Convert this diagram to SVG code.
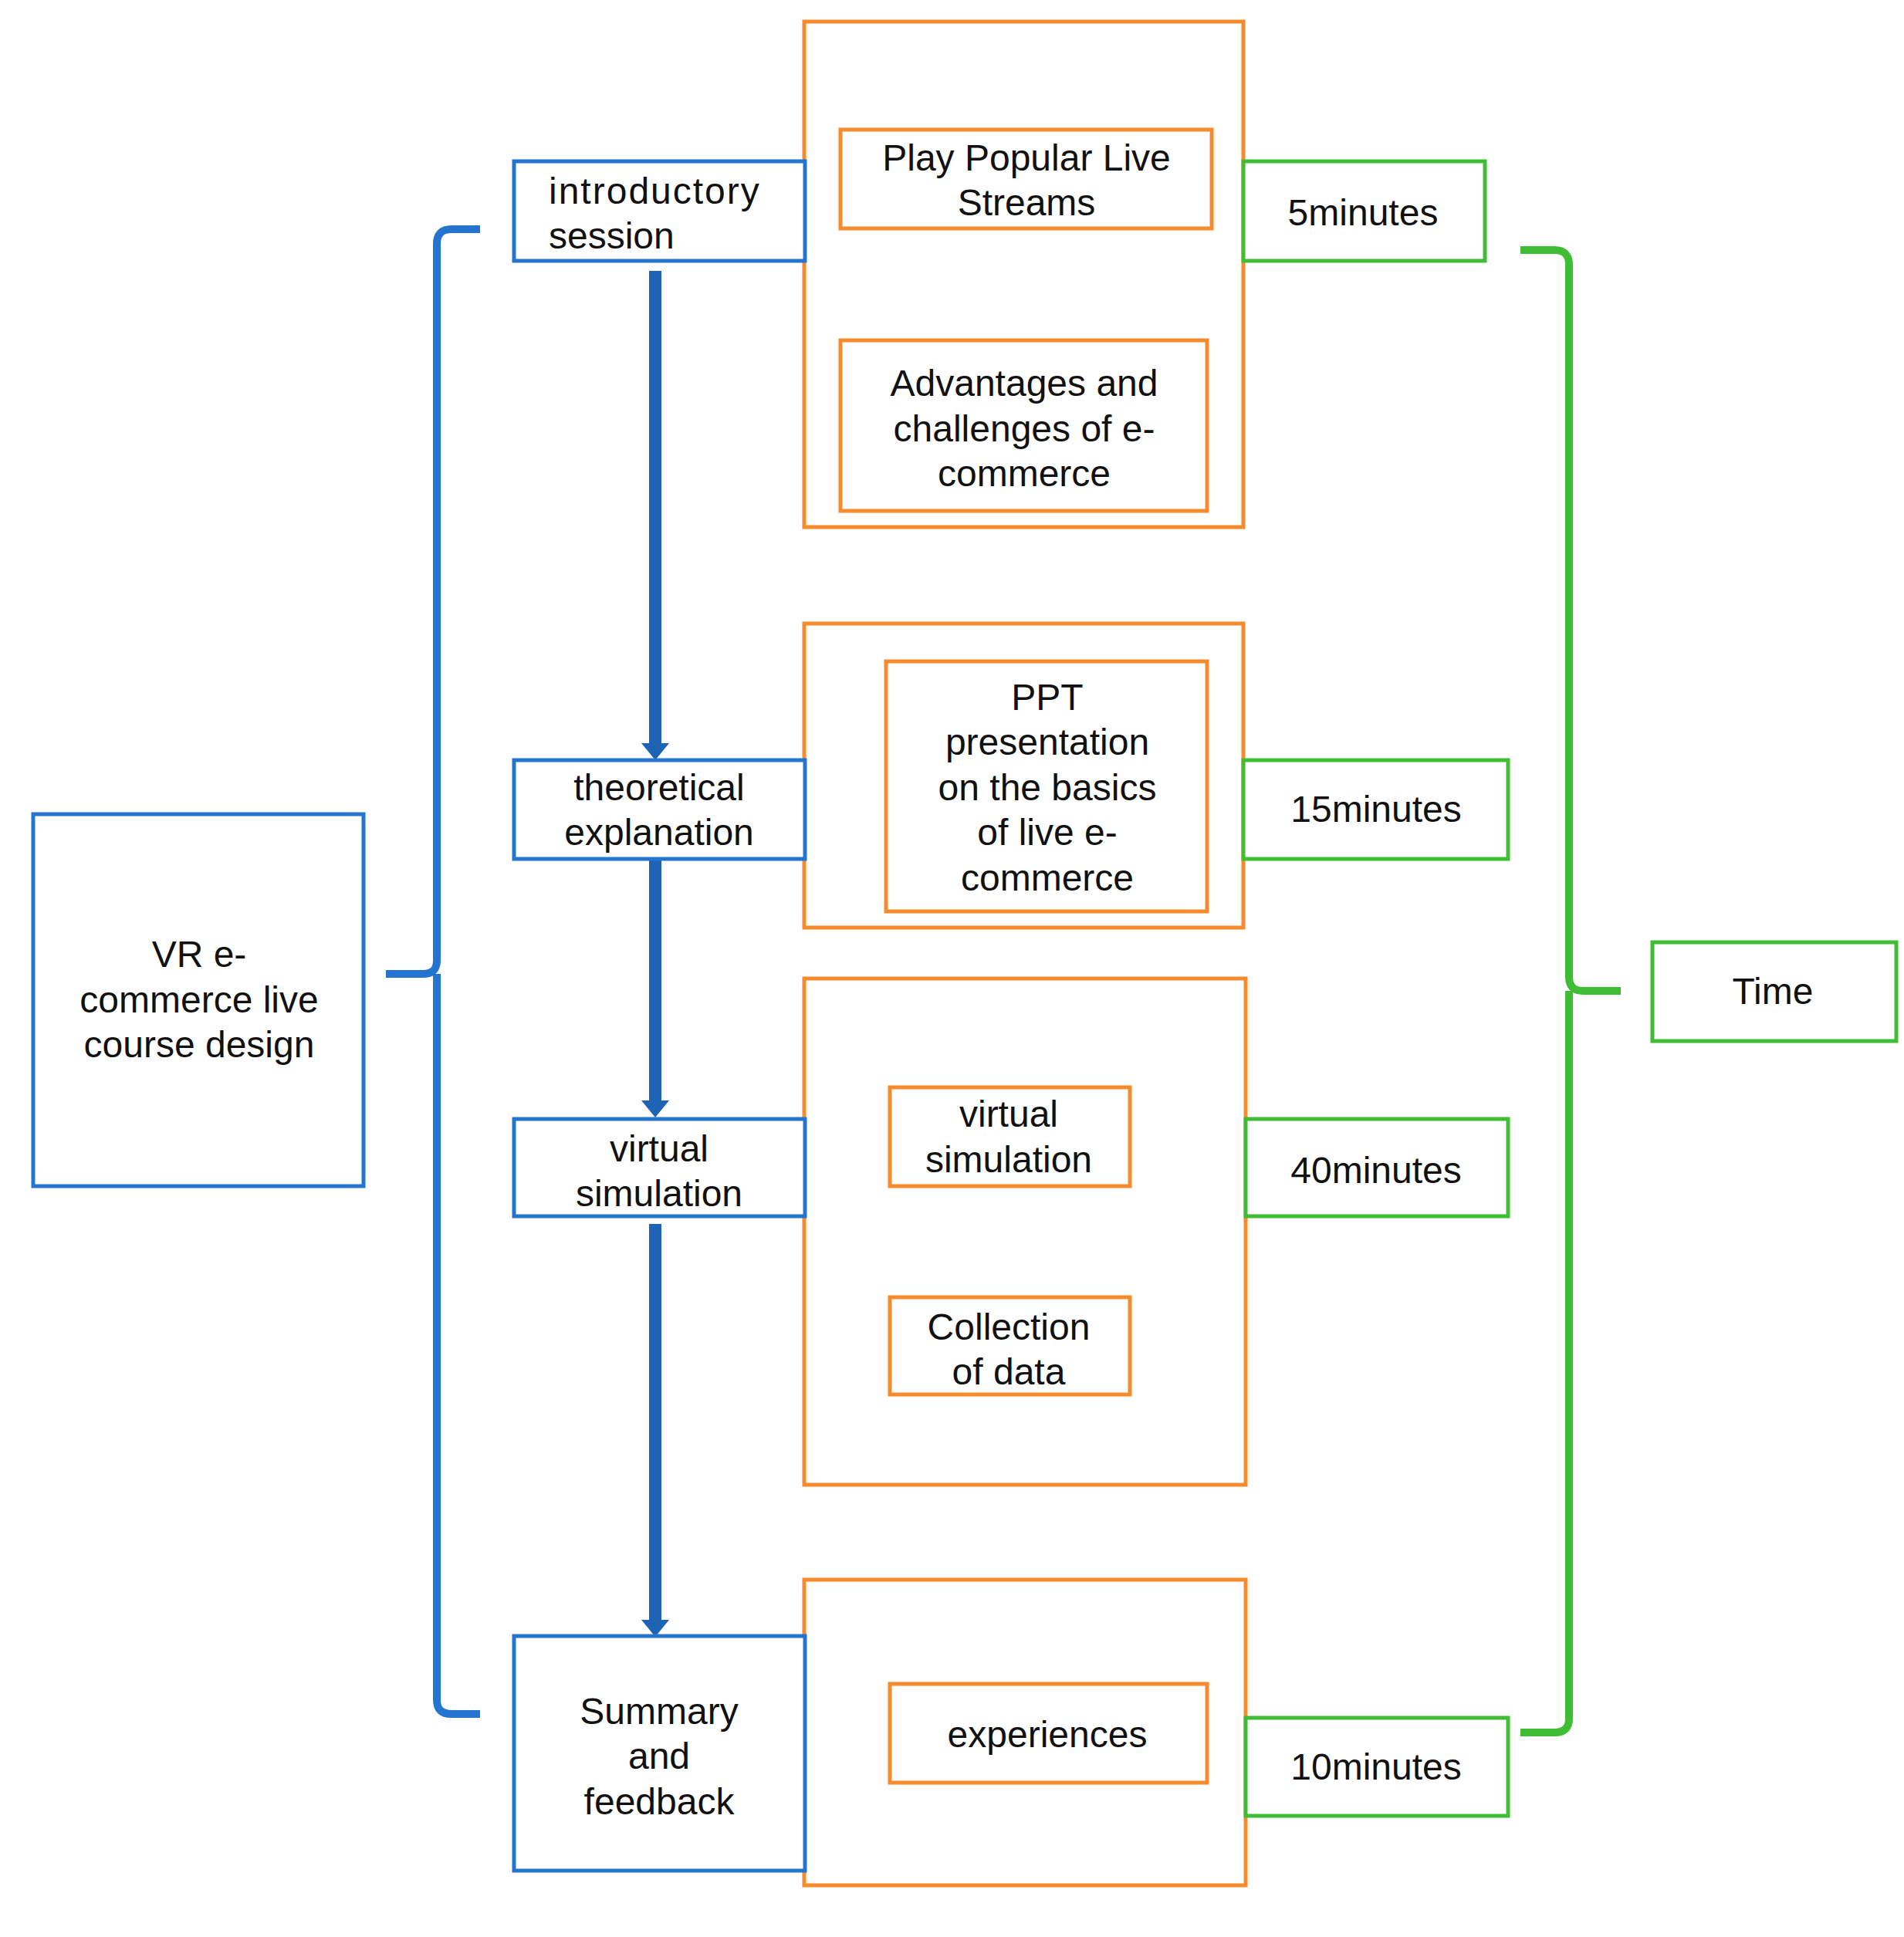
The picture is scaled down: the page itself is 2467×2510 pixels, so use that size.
<svg xmlns="http://www.w3.org/2000/svg" width="2467" height="2510" viewBox="0 0 2467 2510">
<style>
.b{fill:#fff;stroke:#2574cf;stroke-width:5}
.o{fill:none;stroke:#f78a2c;stroke-width:5}
.oi{fill:#fff;stroke:#f78a2c;stroke-width:5}
.g{fill:#fff;stroke:#3fbd35;stroke-width:5}
text{font-family:"Liberation Sans",Arial,sans-serif;font-size:48px;fill:#111}
.c{text-anchor:middle}
</style>
<rect width="2467" height="2510" fill="#fff"/>
<g id="brackets" fill="none" stroke-width="10">
<path d="M622,297 H585 Q566,297 566,316 V1245 Q566,1262 548,1262 H500 M566,1262 Q566,1279 566,1295 V2203 Q566,2221 585,2221 H622" stroke="#2574cf"/>
<path d="M1970,324 H2014 Q2033,324 2033,343 V1266 Q2033,1284 2051,1284 H2100 M2033,1284 V2227 Q2033,2245 2014,2245 H1970" stroke="#3fbd35"/>
</g>
<g id="connectors" fill="#1f63b5">
<rect x="841" y="351" width="16" height="615"/>
<path d="M831,963 H867 L849,985 Z"/>
<rect x="841" y="1115" width="16" height="314"/>
<path d="M831,1426 H867 L849,1448 Z"/>
<rect x="841" y="1586" width="16" height="516"/>
<path d="M831,2099 H867 L849,2121 Z"/>
</g>
<g id="orange-groups">
<rect class="o" x="1042" y="28" width="569" height="655"/>
<rect class="o" x="1042" y="808" width="569" height="394"/>
<rect class="o" x="1042" y="1268" width="572" height="656"/>
<rect class="o" x="1042" y="2047" width="572" height="396"/>
</g>
<g id="vr"><rect class="b" x="43" y="1055" width="428" height="482"/><text class="c" x="258" y="1253">VR e-</text><text class="c" x="258" y="1312">commerce live</text><text class="c" x="258" y="1370">course design</text></g>
<g id="intro"><rect class="b" x="666" y="209" width="377" height="129"/><text x="711" y="264" letter-spacing="2">introductory</text><text x="711" y="322">session</text></g>
<g id="theory"><rect class="b" x="666" y="985" width="377" height="128"/><text class="c" x="854" y="1037">theoretical</text><text class="c" x="854" y="1095">explanation</text></g>
<g id="virtual"><rect class="b" x="666" y="1450" width="377" height="126"/><text class="c" x="854" y="1505">virtual</text><text class="c" x="854" y="1563">simulation</text></g>
<g id="summary"><rect class="b" x="666" y="2120" width="377" height="304"/><text class="c" x="854" y="2234">Summary</text><text class="c" x="854" y="2292">and</text><text class="c" x="854" y="2351">feedback</text></g>
<g id="play"><rect class="oi" x="1089" y="168" width="481" height="128"/><text class="c" x="1330" y="221">Play Popular Live</text><text class="c" x="1330" y="279">Streams</text></g>
<g id="adv"><rect class="oi" x="1089" y="441" width="475" height="221"/><text class="c" x="1327" y="513">Advantages and</text><text class="c" x="1327" y="572">challenges of e-</text><text class="c" x="1327" y="630">commerce</text></g>
<g id="ppt"><rect class="oi" x="1148" y="857" width="416" height="324"/><text class="c" x="1357" y="920">PPT</text><text class="c" x="1357" y="978">presentation</text><text class="c" x="1357" y="1037">on the basics</text><text class="c" x="1357" y="1095">of live e-</text><text class="c" x="1357" y="1154">commerce</text></g>
<g id="vsim"><rect class="oi" x="1153" y="1409" width="311" height="128"/><text class="c" x="1307" y="1460">virtual</text><text class="c" x="1307" y="1519">simulation</text></g>
<g id="collect"><rect class="oi" x="1153" y="1681" width="311" height="126"/><text class="c" x="1307" y="1736">Collection</text><text class="c" x="1307" y="1794">of data</text></g>
<g id="exp"><rect class="oi" x="1153" y="2182" width="411" height="128"/><text class="c" x="1357" y="2264">experiences</text></g>
<g id="t5"><rect class="g" x="1611" y="209" width="313" height="129"/><text class="c" x="1766" y="292">5minutes</text></g>
<g id="t15"><rect class="g" x="1611" y="985" width="343" height="128"/><text class="c" x="1783" y="1065">15minutes</text></g>
<g id="t40"><rect class="g" x="1614" y="1450" width="340" height="126"/><text class="c" x="1783" y="1533">40minutes</text></g>
<g id="t10"><rect class="g" x="1614" y="2226" width="340" height="127"/><text class="c" x="1783" y="2306">10minutes</text></g>
<g id="time"><rect class="g" x="2141" y="1221" width="316" height="128"/><text class="c" x="2297" y="1301">Time</text></g>
</svg>
